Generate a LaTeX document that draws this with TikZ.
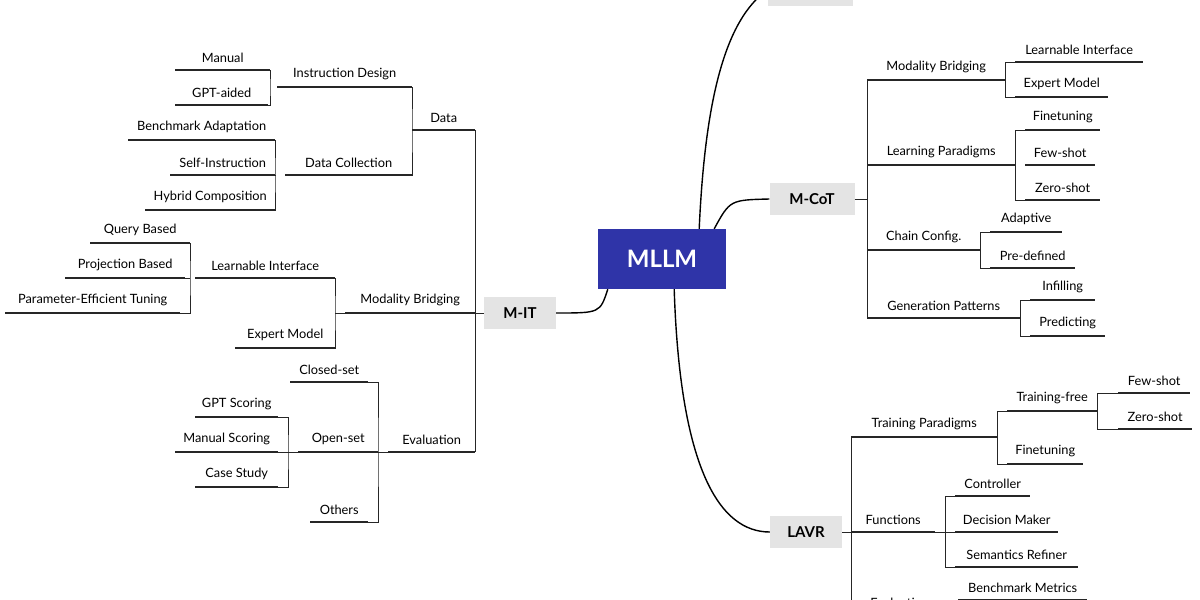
\documentclass[tikz,border=0pt]{standalone}
\usepackage{fontspec}
\setmainfont{Lato}
\usetikzlibrary{positioning}
\definecolor{mllmblue}{RGB}{47,52,168}
\definecolor{hili}{RGB}{228,228,228}

\begin{document}
\begin{tikzpicture}[
  x=1pt,y=-1pt,
  font=\fontsize{12.8}{15}\selectfont,
  topic/.style={anchor=south west,inner xsep=0pt,inner ysep=7pt,
    append after command={(\tikzlastnode.south west) edge[uline] (\tikzlastnode.south east)}},
  uline/.style={line width=1.1pt,black!85},
  branch/.style={line width=0.8pt,black!85},
  curve/.style={line width=1.4pt},
  hub/.style={fill=hili,minimum width=85,minimum height=32,font=\fontsize{15}{17}\selectfont\bfseries},
  root/.style={fill=mllmblue,text=white,minimum width=128,minimum height=60,font=\fontsize{24}{28}\selectfont\bfseries}]

  \useasboundingbox (0,0) rectangle (1200,600);
  \clip (0,0) rectangle (1200,600);

  % Centre and main branches
  \node[root] (mllm) at (662,259) {MLLM};
  \node[hub] (top) at (810,-10) {};
  \node[hub] (mcot) at (812,199) {M-CoT};
  \node[hub,minimum width=72] (lavr) at (806,532) {LAVR};
  \node[hub,minimum width=72] (mit) at (520,313) {M-IT};

  \draw[curve] ([xshift=-27]mllm.north east) .. controls (705,100) and (725,20) .. (top.west);
  \draw[curve] ([xshift=-12]mllm.north east) .. controls (730,200) .. (mcot.west);
  \draw[curve] ([xshift=-52]mllm.south east) .. controls (680,470) and (720,532) .. (lavr.west);
  \draw[curve] ([xshift=10]mllm.south west) .. controls (600,313) .. (mit.east);

  % M-CoT
  \node[topic,minimum width=138] (cmb) at (867,80) {Modality Bridging};
  \node[topic,minimum width=128] (cli) at (1015,62) {Learnable Interface};
  \node[topic,minimum width=93] (cem) at (1015,97) {Expert Model};
  \node[topic,minimum width=148] (clp) at (867,165) {Learning Paradigms};
  \node[topic,minimum width=75] (cft) at (1025,130) {Finetuning};
  \node[topic,minimum width=70] (cfs) at (1025,165) {Few-shot};
  \node[topic,minimum width=75] (czs) at (1025,200) {Zero-shot};
  \node[topic,minimum width=113] (ccc) at (867,250) {Chain Config.};
  \node[topic,minimum width=72] (cad) at (990,232) {Adaptive};
  \node[topic,minimum width=85] (cpd) at (990,268) {Pre-defined};
  \node[topic,minimum width=153] (cgp) at (867,318) {Generation Patterns};
  \node[topic,minimum width=65] (cif) at (1030,300) {Infilling};
  \node[topic,minimum width=75] (cpr) at (1030,336) {Predicting};

  \draw[branch] (mcot.east) -- (mcot.east -| cmb.south west);
  \draw[branch] (cmb.south west) -- (cgp.south west);
  \draw[branch] (cli.south west) -| (cmb.south east) |- (cem.south west);
  \draw[branch] (cft.south west) -| (clp.south east) |- (czs.south west);
  \draw[branch] (cad.south west) -| (ccc.south east) |- (cpd.south west);
  \draw[branch] (cif.south west) -| (cgp.south east) |- (cpr.south west);

  % LAVR
  \node[topic,minimum width=146] (ltp) at (851,437) {Training Paradigms};
  \node[topic,minimum width=90] (ltf) at (1007,411) {Training-free};
  \node[topic,minimum width=72] (lfs) at (1118,393) {Few-shot};
  \node[topic,minimum width=74] (lzs) at (1118,429) {Zero-shot};
  \node[topic,minimum width=76] (lft) at (1007,464) {Finetuning};
  \node[topic,minimum width=84] (lfn) at (851,532) {Functions};
  \node[topic,minimum width=75] (lct) at (955,496) {Controller};
  \node[topic,minimum width=103] (ldm) at (955,532) {Decision Maker};
  \node[topic,minimum width=123] (lsr) at (955,567) {Semantics Refiner};
  \node[topic,minimum width=97] (lev) at (851,615) {Evaluation};
  \node[topic,minimum width=129] (lbm) at (958,600) {Benchmark Metrics};

  \draw[branch] (lavr.east) -- (lavr.east -| ltp.south west);
  \draw[branch] (ltp.south west) -- (lev.south west);
  \draw[branch] (ltf.south west) -| (ltp.south east) |- (lft.south west);
  \draw[branch] (lfs.south west) -| (ltf.south east) |- (lzs.south west);
  \draw[branch] (lct.south west) -| ([xshift=10]lfn.south east) |- (lsr.south west);
  \draw[branch] (ldm.south west) -- (lfn.south east);
  \draw[branch] (lbm.south west) -| (lev.south east) -- ++(0,20);

  % M-IT
  \node[topic,minimum width=63] (ida) at (412,130) {Data};
  \node[topic,minimum width=135] (iid) at (277,87) {Instruction Design};
  \node[topic,minimum width=95] (ima) at (175,70) {Manual};
  \node[topic,minimum width=93] (igp) at (175,105) {GPT-aided};
  \node[topic,minimum width=127] (idc) at (285,175) {Data Collection};
  \node[topic,minimum width=147] (iba) at (128,140) {Benchmark Adaptation};
  \node[topic,minimum width=105] (isi) at (170,175) {Self-Instruction};
  \node[topic,minimum width=130] (ihc) at (145,210) {Hybrid Composition};
  \node[topic,minimum width=130] (imb) at (345,313) {Modality Bridging};
  \node[topic,minimum width=140] (ili) at (195,278) {Learnable Interface};
  \node[topic,minimum width=100] (iqb) at (90,243) {Query Based};
  \node[topic,minimum width=120] (ipb) at (65,278) {Projection Based};
  \node[topic,minimum width=175] (ipe) at (5,313) {Parameter-Efficient Tuning};
  \node[topic,minimum width=100] (iem) at (235,348) {Expert Model};
  \node[topic,minimum width=87] (iev) at (388,452) {Evaluation};
  \node[topic,minimum width=78] (ics) at (290,382) {Closed-set};
  \node[topic,minimum width=80] (ios) at (298,452) {Open-set};
  \node[topic,minimum width=83] (igs) at (195,417) {GPT Scoring};
  \node[topic,minimum width=103] (ims) at (175,452) {Manual Scoring};
  \node[topic,minimum width=83] (icy) at (195,487) {Case Study};
  \node[topic,minimum width=58] (iot) at (310,522) {Others};

  \draw[branch] (mit.west) -- (mit.west -| ida.south east);
  \draw[branch] (ida.south east) -- (iev.south east);
  \draw[branch] (iid.south east) -| (ida.south west) |- (idc.south east);
  \draw[branch] (ima.south east) -| ([xshift=-7]iid.south west) |- (igp.south east);
  \draw[branch] (iba.south east) -| ([xshift=-10]idc.south west) |- (ihc.south east);
  \draw[branch] (isi.south east) -- ([xshift=-10]idc.south west);
  \draw[branch] (ili.south east) -| ([xshift=-10]imb.south west) |- (iem.south east);
  \draw[branch] (imb.south west) -- ++(-10,0);
  \draw[branch] (iqb.south east) -| ([xshift=-5]ili.south west) |- (ipe.south east);
  \draw[branch] (ipb.south east) -- ([xshift=-5]ili.south west);
  \draw[branch] (ics.south east) -| ([xshift=-10]iev.south west) |- (iot.south east);
  \draw[branch] (ios.south east) -- (iev.south west);
  \draw[branch] (igs.south east) -| ([xshift=-10]ios.south west) |- (icy.south east);
  \draw[branch] (ims.south east) -- (ios.south west);
\end{tikzpicture}
\end{document}
